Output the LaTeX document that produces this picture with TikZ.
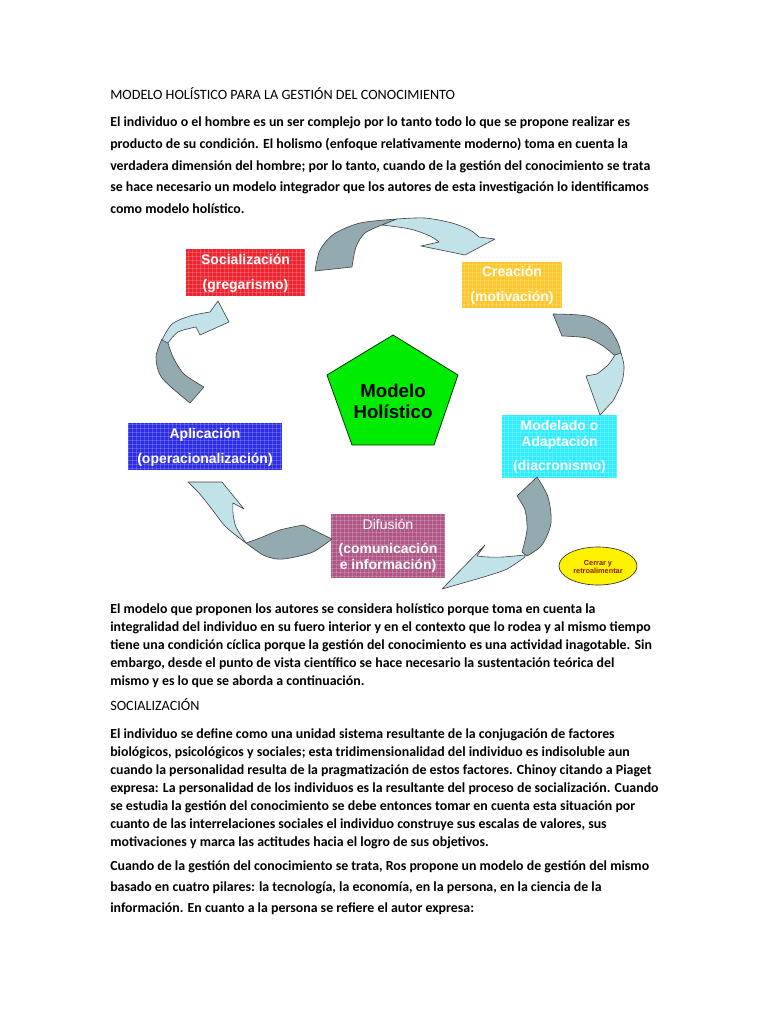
\documentclass[tikz,border=0pt]{standalone}
\usepackage{fontspec}
\setmainfont{Liberation Sans}
\newfontfamily\calib{Carlito}
\usetikzlibrary{patterns}
\definecolor{boxred}{RGB}{237,36,48}
\definecolor{boxgold}{RGB}{255,198,44}
\definecolor{boxblue}{RGB}{44,44,226}
\definecolor{boxcyan}{RGB}{48,236,255}
\definecolor{boxplum}{RGB}{176,86,132}
\definecolor{pentgreen}{RGB}{0,236,0}
\definecolor{arrlightc}{RGB}{192,226,232}
\definecolor{arrdarkc}{RGB}{146,170,176}
\definecolor{ellred}{RGB}{140,24,0}
\begin{document}
\begin{tikzpicture}[x=0.75pt,y=-0.75pt,
  bodyline/.style={anchor=base west, inner sep=0pt, font=\calib\bfseries\fontsize{10.4}{12}\selectfont},
  headline/.style={anchor=base west, inner sep=0pt, font=\calib\fontsize{10.65}{12}\selectfont},
  boxtext/.style={align=center, inner sep=0pt, text=white, font=\bfseries\fontsize{10.5}{18.75}\selectfont},
  arrlight/.style={fill=arrlightc, draw=black!75, line width=0.45pt, line join=round},
  arrdark/.style={fill=arrdarkc, draw=black!75, line width=0.45pt, line join=round},
  texture/.style={pattern=grid, pattern color=white, opacity=0.18}]
\useasboundingbox[fill=white] (0,0) rectangle (768,1024);

% ---- title and first paragraph
\node[headline] (title) at (110,99) {MODELO HOLÍSTICO PARA LA GESTIÓN DEL CONOCIMIENTO};
\node[bodyline] (a1) at (110,126) {El individuo o el hombre es un ser complejo por lo tanto todo lo que se propone realizar es};
\node[bodyline] (a2) at (110,148) {producto de su condición. El holismo (enfoque relativamente moderno) toma en cuenta la};
\node[bodyline] (a3) at (110,170) {verdadera dimensión del hombre; por lo tanto, cuando de la gestión del conocimiento se trata};
\node[bodyline] (a4) at (110,191) {se hace necesario un modelo integrador que los autores de esta investigación lo identificamos};
\node[bodyline] (a5) at (110,213) {como modelo holístico.};

% ---- boxes
\fill[boxred] (186,249) rectangle (305,296);
\fill[texture] (186,249) rectangle (305,296);
\node[boxtext] (soc) at (245.5,273) {Socialización\\(gregarismo)};

\fill[boxgold] (462,262) rectangle (562,308);
\fill[texture] (462,262) rectangle (562,308);
\node[boxtext, text=white!96!yellow] (cre) at (512,285.5) {Creación\\(motivación)};

\fill[boxblue] (128,423) rectangle (282,470);
\fill[texture] (128,423) rectangle (282,470);
\node[boxtext] (apl) at (205,447) {Aplicación\\(operacionalización)};

\fill[boxcyan] (502,415) rectangle (617,478);
\fill[texture] (502,415) rectangle (617,478);
\node[boxtext, font=\bfseries\fontsize{10.5}{12}\selectfont] (mod) at (559.5,447) {Modelado o\\Adaptación\\[6.5pt](diacronismo)};

\fill[boxplum] (331,514) rectangle (445,578);
\fill[texture] (331,514) rectangle (445,578);
\node[boxtext, font=\bfseries\fontsize{10.5}{12}\selectfont] (dif) at (388,546) {{\mdseries Difusión}\\[6.2pt](comunicación\\e información)};

% ---- pentagon
\filldraw[fill=pentgreen, draw=black!80!green, line width=0.6pt, line join=miter]
  (393,335) -- (458,375) -- (434,445) -- (352,445) -- (327,375) -- cycle;
\node[align=center, inner sep=0pt, font=\bfseries\fontsize{14}{15.8}\selectfont] (holo) at (393,401) {Modelo\\Holístico};

% ---- ellipse
\filldraw[fill=yellow, draw=black!80, line width=0.5pt] (598,566) ellipse [x radius=39, y radius=19];
\node[align=center, inner sep=0pt, text=ellred, font=\bfseries\fontsize{5.5}{6.2}\selectfont] (cer) at (598,567) {Cerrar y\\retroalimentar};

% ---- curved arrows
% A: Socializacion -> Creacion
\filldraw[arrdark] plot[smooth] coordinates {(315,271) (320,250) (334,234) (360,223) (397,219)}
  -- plot[smooth] coordinates {(382,225) (365,233) (356,247) (352,267)} -- cycle;
\filldraw[arrlight] (382,225) -- plot[smooth] coordinates {(397,219) (425,218) (452,223) (470,230) (479,237)}
  -- (495,239) -- (465,255) -- (421,246) -- plot[smooth] coordinates {(439,242) (430,236) (410,229) (382,225)} -- cycle;
% B: Creacion -> Modelado
\filldraw[arrdark] plot[smooth] coordinates {(553,314) (587,316) (608,327) (618,343) (621,354)}
  -- plot[smooth] coordinates {(614,355) (603,346) (587,338) (562,336)} -- cycle;
\filldraw[arrlight] plot[smooth] coordinates {(621,353) (624,366) (622,382) (613,401)}
  -- (600,415) -- (586,376) -- plot[smooth] coordinates {(597,374) (608,365) (615,355)} -- cycle;
% C: Modelado -> Difusion
\filldraw[arrdark] plot[smooth] coordinates {(537,477) (548,497) (551,523) (542,545) (527,556)}
  -- plot[smooth] coordinates {(522,552) (527,530) (525,510) (517,496)} -- cycle;
\filldraw[arrlight] plot[smooth] coordinates {(525,555) (503,557) (488,557) (477,556)}
  -- (485,545) -- plot[smooth] coordinates {(442,589) (463,583) (487,576) (507,569) (525,557)} -- cycle;
% D: Difusion -> Aplicacion
\filldraw[arrdark] plot[smooth] coordinates {(303,525) (280,530) (260,538) (246,543)}
  -- plot[smooth] coordinates {(246,543) (263,555) (277,559) (290,558) (313,552) (332,539)} -- cycle;
\filldraw[arrlight] plot[smooth] coordinates {(246,543) (236,527) (233,513) (233,503)}
  -- (244,509) -- (222,482) -- plot[smooth] coordinates {(188,482) (199,493) (211,508) (226,527) (246,543)} -- cycle;
% E: Aplicacion -> Socializacion
\filldraw[arrdark] plot[smooth] coordinates {(190,403) (162,378) (156,357) (162,339)}
  -- plot[smooth] coordinates {(168,343) (173,357) (184,374) (204,387)} -- cycle;
\filldraw[arrlight] plot[smooth] coordinates {(162,340) (172,324) (190,316) (210,312)}
  -- (218,301) -- (229,322) -- (200,335) -- plot[smooth] coordinates {(196,327) (178,332) (168,343)} -- cycle;

% ---- lower text
\node[bodyline] (b1) at (110,613) {El modelo que proponen los autores se considera holístico porque toma en cuenta la};
\node[bodyline] (b2) at (110,631) {integralidad del individuo en su fuero interior y en el contexto que lo rodea y al mismo tiempo};
\node[bodyline] (b3) at (110,649) {tiene una condición cíclica porque la gestión del conocimiento es una actividad inagotable. Sin};
\node[bodyline] (b4) at (110,667) {embargo, desde el punto de vista científico se hace necesario la sustentación teórica del};
\node[bodyline] (b5) at (110,685) {mismo y es lo que se aborda a continuación.};

\node[headline] (soch) at (110,710) {SOCIALIZACIÓN};

\node[bodyline] (c1) at (110,738) {El individuo se define como una unidad sistema resultante de la conjugación de factores};
\node[bodyline] (c2) at (110,756) {biológicos, psicológicos y sociales; esta tridimensionalidad del individuo es indisoluble aun};
\node[bodyline] (c3) at (110,774) {cuando la personalidad resulta de la pragmatización de estos factores. Chinoy citando a Piaget};
\node[bodyline] (c4) at (110,792) {expresa: La personalidad de los individuos es la resultante del proceso de socialización. Cuando};
\node[bodyline] (c5) at (110,810) {se estudia la gestión del conocimiento se debe entonces tomar en cuenta esta situación por};
\node[bodyline] (c6) at (110,828) {cuanto de las interrelaciones sociales el individuo construye sus escalas de valores, sus};
\node[bodyline] (c7) at (110,846) {motivaciones y marca las actitudes hacia el logro de sus objetivos.};

\node[bodyline] (d1) at (110,870) {Cuando de la gestión del conocimiento se trata, Ros propone un modelo de gestión del mismo};
\node[bodyline] (d2) at (110,891) {basado en cuatro pilares: la tecnología, la economía, en la persona, en la ciencia de la};
\node[bodyline] (d3) at (110,912) {información. En cuanto a la persona se refiere el autor expresa:};
\end{tikzpicture}
\end{document}
